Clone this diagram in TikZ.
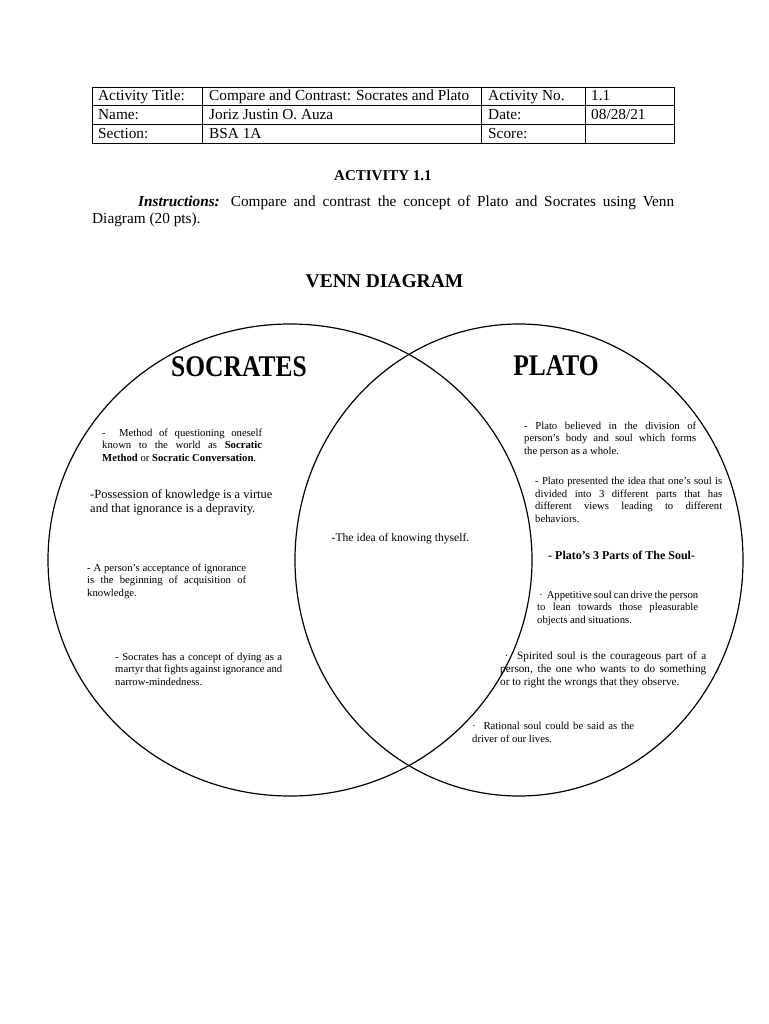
\documentclass[tikz,border=0pt]{standalone}
\usepackage{fontspec}
\usepackage{graphicx}
\setmainfont{Liberation Serif}
\usetikzlibrary{shapes.geometric}
\newcommand{\jln}[2]{\makebox[#1pt][s]{#2}}
\tikzset{
  cell/.style={anchor=base west, inner sep=0pt, font=\fontsize{15.3}{18}\selectfont},
  grid/.style={line width=0.9pt},
  venn/.style={draw, ellipse, line width=1.2pt, inner sep=0pt, minimum height=472pt},
  small/.style={anchor=base west, inner sep=0pt, align=left, font=\fontsize{10.7}{12.5}\selectfont},
  med/.style={anchor=base west, inner sep=0pt, align=left, font=\fontsize{12.5}{14}\selectfont},
  big/.style={anchor=base, inner sep=0pt, font=\fontsize{30}{30}\selectfont\bfseries},
}
\begin{document}
\begin{tikzpicture}[x=1pt,y=-1pt]
\useasboundingbox[fill=white] (0,0) rectangle (768,1024);
% table
\draw[grid] (92,87) rectangle (674,143);
\draw[grid] (92,105.5) -- (674,105.5);
\draw[grid] (92,124) -- (674,124);
\draw[grid] (202,87) -- (202,143);
\draw[grid] (481,87) -- (481,143);
\draw[grid] (585,87) -- (585,143);
\node[cell] (a1) at (98,101) {Activity Title:};
\node[cell] (b1) at (209,101) {Compare and Contrast: Socrates and Plato};
\node[cell] (c1) at (488,101) {Activity No.};
\node[cell] (d1) at (591,101) {1.1};
\node[cell] (a2) at (98,119.5) {Name:};
\node[cell] (b2) at (209,119.5) {Joriz Justin O. Auza};
\node[cell] (c2) at (488,119.5) {Date:};
\node[cell] (d2) at (591,119.5) {08/28/21};
\node[cell] (a3) at (98,138.5) {Section:};
\node[cell] (b3) at (209,138.5) {BSA 1A};
\node[cell] (c3) at (488,138.5) {Score:};
% headings
\node[anchor=base, inner sep=0pt, font=\fontsize{15}{18}\selectfont\bfseries] (act) at (383,181) {ACTIVITY 1.1};
\node[anchor=base west, inner sep=0pt, font=\fontsize{15.3}{17}\selectfont] (ins1) at (138,207) {\jln{536}{\textbf{\textit{Instructions:}} Compare and contrast the concept of Plato and Socrates using Venn}};
\node[anchor=base west, inner sep=0pt, font=\fontsize{15.3}{17}\selectfont] (ins2) at (92,224) {Diagram (20 pts).};
\node[anchor=base, inner sep=0pt, font=\fontsize{19.5}{20}\selectfont\bfseries] (vd) at (384.5,287) {VENN DIAGRAM};
% circles
\node[venn, minimum width=484pt] (socc) at (290,560) {};
\node[venn, minimum width=448pt] (platc) at (519,560) {};
\node[big] (soc) at (239,376) {\scalebox{0.85}[1]{SOCRATES}};
\node[big] (pla) at (556,375) {\scalebox{0.85}[1]{PLATO}};
% Socrates texts
\node[small] (s1) at (102,461) {\jln{160}{- \ Method of questioning oneself}\\\jln{160}{known to the world as \textbf{Socratic}}\\\textbf{Method} or \textbf{Socratic Conversation}.};
\node[med] (s2) at (90,512) {-Possession of knowledge is a virtue\\and that ignorance is a depravity.};
\node[small] (s3) at (87,596) {\jln{159}{- A person's acceptance of ignorance}\\\jln{159}{is the beginning of acquisition of}\\knowledge.};
\node[small] (s4) at (115,685) {\jln{167}{- Socrates has a concept of dying as a}\\\jln{167}{martyr that fights against ignorance and}\\narrow-mindedness.};
% middle
\node[anchor=base, inner sep=0pt, font=\fontsize{11.6}{14}\selectfont] (mid) at (400.5,541) {-The idea of knowing thyself.};
% Plato texts
\node[small] (p1) at (524,454) {\jln{172}{- Plato believed in the division of}\\\jln{172}{person's body and soul which forms}\\the person as a whole.};
\node[small] (p2) at (535,522) {\jln{187}{- Plato presented the idea that one's soul is}\\\jln{187}{divided into 3 different parts that has}\\\jln{187}{different views leading to different}\\behaviors.};
\node[anchor=base west, inner sep=0pt, font=\fontsize{12}{14}\selectfont\bfseries] (p3) at (548,559) {- Plato's 3 Parts of The Soul-};
\node[small] (p4) at (537,623) {\jln{161}{\ · \ Appetitive soul can drive the person}\\\jln{161}{to lean towards those pleasurable}\\objects and situations.};
\node[small, font=\fontsize{11.2}{12.8}\selectfont] (p5) at (500,685) {\jln{206}{\ · \ Spirited soul is the courageous part of a}\\\jln{206}{person, the one who wants to do something}\\or to right the wrongs that they observe.};
\node[small] (p6) at (472,742) {\jln{162}{· \ Rational soul could be said as the}\\driver of our lives.};
\end{tikzpicture}
\end{document}
